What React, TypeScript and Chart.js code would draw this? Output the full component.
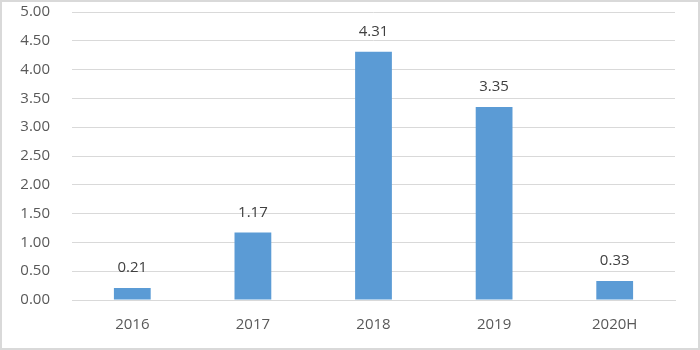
import React, { useEffect, useRef } from "react";
import { Chart, registerables } from "chart.js";

Chart.register(...registerables);

const categories = ["2016", "2017", "2018", "2019", "2020H"];
const values = [0.21, 1.17, 4.31, 3.35, 0.33];
const yTicks = [0, 0.5, 1, 1.5, 2, 2.5, 3, 3.5, 4, 4.5, 5];

const FONT = "'Open Sans', 'Liberation Sans', sans-serif";

const valueLabels = {
  id: "valueLabels",
  afterDatasetsDraw(chart: any) {
    const ctx = chart.ctx;
    const meta = chart.getDatasetMeta(0);
    ctx.save();
    ctx.font = `15px ${FONT}`;
    ctx.fillStyle = "#404040";
    ctx.textAlign = "center";
    ctx.textBaseline = "alphabetic";
    meta.data.forEach((bar: any, i: number) => {
      ctx.fillText(values[i].toFixed(2), bar.x, bar.y - 16);
    });
    ctx.restore();
  },
};

export default function App() {
  const ref = useRef<HTMLCanvasElement>(null);
  useEffect(() => {
    document.body.style.margin = "0";
    const chart = new Chart(ref.current!, {
      type: "bar",
      data: {
        labels: categories,
        datasets: [
          {
            data: values,
            backgroundColor: "#5B9BD5",
            barPercentage: 0.305,
            categoryPercentage: 1,
          },
        ],
      },
      options: {
        animation: false,
        responsive: false,
        maintainAspectRatio: false,
        layout: { padding: { top: 10, right: 23, left: 0, bottom: 0 } },
        plugins: { legend: { display: false }, tooltip: { enabled: false } },
        scales: {
          x: {
            grid: { display: false, drawTicks: false },
            border: { color: "#d9d9d9", width: 1 },
            ticks: {
              color: "#595959",
              font: { family: FONT, size: 15 },
              padding: 16,
            },
            afterFit: (s: any) => {
              s.height = 48;
            },
          },
          y: {
            min: 0,
            max: 5,
            afterBuildTicks: (s: any) => {
              s.ticks = yTicks.map((v) => ({ value: v }));
            },
            grid: { color: "#d9d9d9", drawTicks: false },
            border: { display: false },
            ticks: {
              color: "#595959",
              font: { family: FONT, size: 15 },
              padding: 22,
              callback: (v: any) => Number(v).toFixed(2),
            },
            afterFit: (s: any) => {
              s.width = 70;
              s.paddingTop = 0;
              s.paddingBottom = 0;
            },
          },
        },
      },
      plugins: [valueLabels],
    });
    return () => chart.destroy();
  }, []);
  return (
    <div
      style={{
        position: "fixed",
        left: 0,
        top: 0,
        width: 700,
        height: 350,
        boxSizing: "border-box",
        border: "2px solid #d9d9d9",
        background: "#fff",
      }}
    >
      <canvas
        ref={ref}
        width={696}
        height={346}
        style={{ display: "block", width: 696, height: 346 }}
      />
    </div>
  );
}
